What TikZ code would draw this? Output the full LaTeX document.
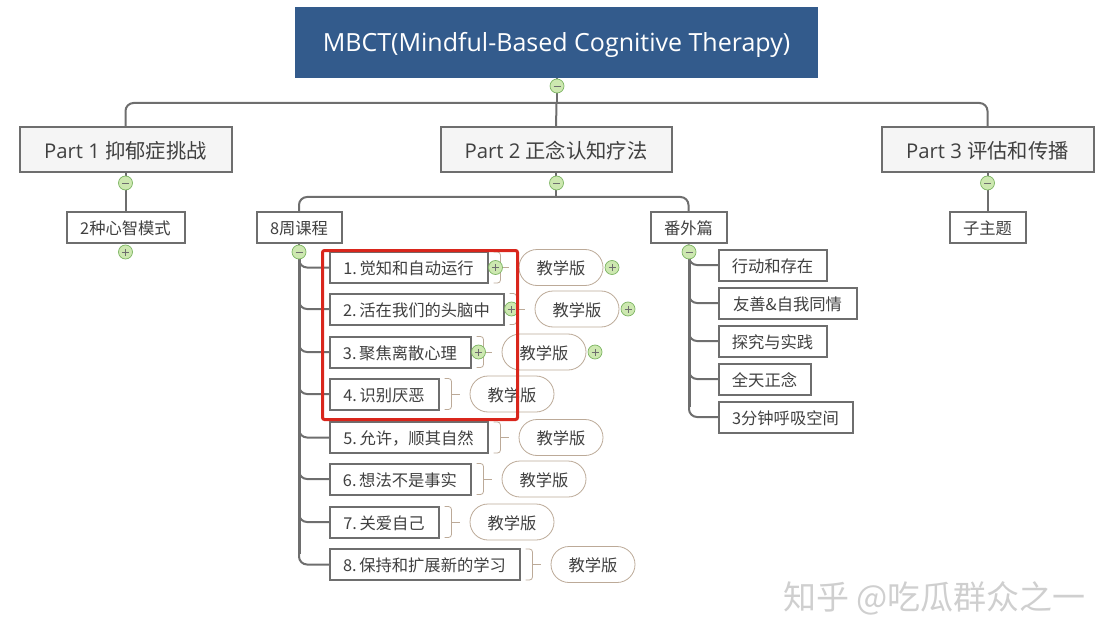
\documentclass[tikz,border=0pt]{standalone}
\usepackage{fontspec}
\setmainfont{Open Sans}
\newfontfamily\cjk{Noto Sans CJK SC}
\usetikzlibrary{backgrounds}
\definecolor{mapblue}{HTML}{335B8C}
\definecolor{mapline}{HTML}{6E6E6E}
\definecolor{maptext}{HTML}{404040}
\definecolor{mappart}{HTML}{F5F5F5}
\definecolor{maptan}{HTML}{BCAA98}
\definecolor{mapgreen}{HTML}{CDE8B0}
\definecolor{mapgreendk}{HTML}{7DB563}
\definecolor{mapred}{HTML}{D9261C}
\definecolor{markgray}{HTML}{CFCFCF}
\tikzset{
  rootbox/.style={fill=mapblue, text=white, font=\fontsize{25}{30}\selectfont, minimum width=523, minimum height=71, inner sep=0pt, outer sep=0pt, text height=25pt, text depth=6pt},
  partbox/.style={draw=mapline, line width=2pt, fill=mappart, text=maptext, font=\fontsize{20.3}{24}\selectfont, minimum width=212, minimum height=45, inner sep=0pt, outer sep=0pt, text height=22pt, text depth=4pt},
  topicbox/.style={draw=mapline, line width=2pt, fill=white, text=maptext, font=\fontsize{16.3}{20}\selectfont\cjk, minimum height=30, inner sep=0pt, outer sep=0pt, text height=17pt, text depth=3pt},
  lessonbox/.style={topicbox, anchor=west, minimum height=31},
  pillbox/.style={draw=maptan, line width=.8pt, fill=white, rounded corners=18pt, text=maptext, font=\fontsize{16.3}{20}\selectfont\cjk, minimum width=84, minimum height=36, inner sep=0pt, outer sep=0pt, anchor=west, text height=17pt, text depth=3pt},
  conn/.style={draw=mapline, line width=2pt, rounded corners=8pt},
  trunk/.style={draw=mapline, line width=3pt},
  summary/.style={draw=maptan, line width=.8pt, rounded corners=3pt},
  togglebase/.style={circle, draw=mapgreendk, line width=.7pt, fill=mapgreen, minimum size=14, inner sep=0pt},
  toggleminus/.style={togglebase, path picture={\draw[mapline, line width=.9pt] ([xshift=-3.5pt]path picture bounding box.center) -- ([xshift=3.5pt]path picture bounding box.center);}},
  toggleplus/.style={togglebase, path picture={\draw[mapline, line width=.9pt] ([xshift=-3.5pt]path picture bounding box.center) -- ([xshift=3.5pt]path picture bounding box.center) ([yshift=-3.5pt]path picture bounding box.center) -- ([yshift=3.5pt]path picture bounding box.center);}},
  redframe/.style={draw=mapred, line width=3pt, rounded corners=2pt, minimum width=195, minimum height=169, inner sep=0pt},
  markfont/.style={text=markgray, font=\fontsize{33}{38}\selectfont\cjk, inner sep=0pt}
}
\begin{document}
\begin{tikzpicture}[x=1pt, y=-1pt]
\useasboundingbox (0,0) rectangle (1115,644);

\node[rootbox] (root) at (556.5,42.5) {MBCT(Mindful-Based Cognitive Therapy)};
\node[partbox] (part1) at (125.5,150) {Part 1 {\cjk 抑郁症挑战}};
\node[partbox, minimum width=231] (part2) at (556,150) {Part 2 {\cjk 正念认知疗法}};
\node[partbox] (part3) at (987.5,150) {Part 3 {\cjk 评估和传播}};

\node[topicbox, minimum width=118] (modes) at (125.5,227.5) {2种心智模式};
\node[topicbox, minimum width=85] (weeks) at (299,227.5) {8周课程};
\node[topicbox, minimum width=76] (extra) at (688.5,227.5) {番外篇};
\node[topicbox, minimum width=76] (sub) at (987.5,227.5) {子主题};

\foreach \n/\lbl/\xr/\y in {1/觉知和自动运行/488/267.5, 2/活在我们的头脑中/504/309, 3/聚焦离散心理/471/352, 4/识别厌恶/439/394, 5/允许，顺其自然/488/437.5, 6/想法不是事实/471/479, 7/关爱自己/439/522, 8/保持和扩展新的学习/520/564.5} {
  \node[lessonbox, minimum width=\xr-330] (l\n) at (329.5,\y) {\n.\,\lbl};
  \node[pillbox] (p\n) at ([xshift=31.5pt]l\n.east) {教学版};
  \draw[summary] ([xshift=6pt]l\n.north east) -- ++(7,0) -- ++(0,31) -- ++(-7,0);
  \draw[summary] ([xshift=13pt]l\n.east) -- ++(8,0);
}

\foreach \n/\lbl/\xr/\y in {1/行动和存在/827/265, 2/友善\&自我同情/857/303, 3/探究与实践/827/341, 4/全天正念/811/379, 5/3分钟呼吸空间/853/417} {
  \node[lessonbox, minimum width=\xr-719] (e\n) at (718.5,\y) {\lbl};
}

\coordinate (busroot) at (556.5,103);
\coordinate (buspart) at (556,197);
\coordinate (endweeks) at (299,554);
\coordinate (endextra) at (689,407);
\node[toggleminus] (troot) at (557,86) {};
\node[toggleminus] (tpart1) at (125.5,183) {};
\node[toggleminus] (tpart2) at (556.5,183) {};
\node[toggleminus] (tpart3) at (987.5,183) {};
\node[toggleplus] (tmodes) at (125.5,252) {};
\node[toggleminus] (tweeks) at (299,252) {};
\node[toggleminus] (textra) at (689,252) {};

\begin{scope}[on background layer]
\draw[conn] (root.south) -- (busroot);
\draw[conn] (busroot) -| (part1.north);
\draw[conn] (busroot) -- (part2.north);
\draw[conn] (busroot) -| (part3.north);
\draw[conn] (part1.south) -- (modes.north);
\draw[conn] (part3.south) -- (sub.north);
\draw[conn] (part2.south) -- (buspart);
\draw[conn] (buspart) -| (weeks.north);
\draw[conn] (buspart) -| (extra.north);
\draw[conn] (weeks.south) -- (tweeks);
\draw[conn] (extra.south) -- (textra);
\draw[trunk] (tweeks) -- (endweeks);
\draw[trunk] (textra) -- (endextra);
\foreach \n in {1,...,8} {\draw[conn] (tweeks.center) |- (l\n.west);}
\foreach \n in {1,...,5} {\draw[conn] (textra.center) |- (e\n.west);}
\end{scope}

\foreach \n in {1,2,3} {
  \node[toggleplus] (tl\n) at ([xshift=8pt]l\n.east) {};
  \node[toggleplus] (tp\n) at ([xshift=9pt]p\n.east) {};
}

\node[redframe] (focus) at (420,335) {};
\node[markfont, anchor=east] (mark) at (1086,598) {知乎 @吃瓜群众之一};
\end{tikzpicture}
\end{document}
